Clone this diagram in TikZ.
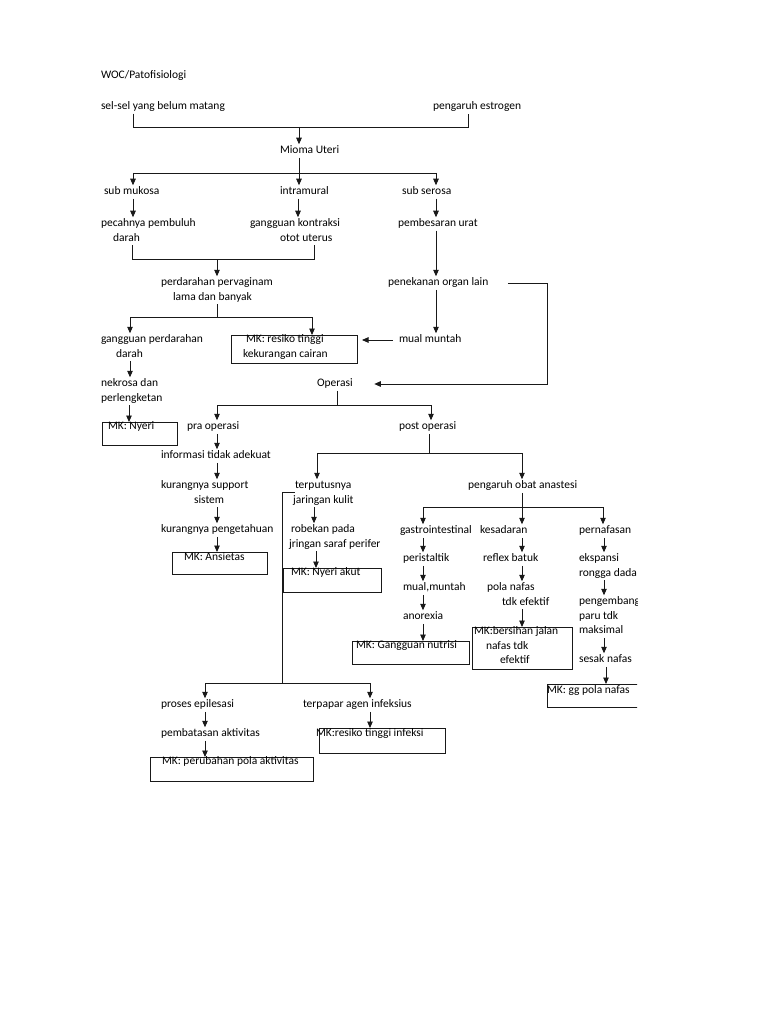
\documentclass[tikz,border=0pt]{standalone}
\usepackage{fontspec}
\setmainfont{Carlito}
\usetikzlibrary{arrows.meta}
\newcommand\fsz{\fontsize{11.5}{14.5}\selectfont}
\newcommand\fst{\rule{0pt}{8pt}}
\newcommand\fsd{\rule[-2.5pt]{0pt}{2.5pt}}
\begin{document}
\begin{tikzpicture}[x=1pt,y=-1pt,
 ln/.style={line width=0.9pt, draw=black!90},
 arr/.style={ln,-{Triangle[length=6.5pt,width=5.5pt]}},
 lbl/.style={anchor=west,inner sep=0pt,outer sep=1.5pt,font=\fsz,text height=8pt,text depth=2.5pt,text=black,xshift=-1.5pt},
 ml/.style={anchor=north west,inner sep=0pt,outer sep=1.5pt,font=\fsz,align=left,text=black,yshift=6.75pt,xshift=-1.5pt},
 mkbox/.style={draw=black!90,line width=0.9pt,anchor=north west,inner sep=0pt,outer sep=0pt},
]
\useasboundingbox (0,0) rectangle (768,1024);
\fill[white] (0,0) rectangle (768,1024);
\begin{scope}
\clip (0,0) rectangle (637,1024);
% ---- nodes
\node[lbl] (title) at (101,76) {WOC/Patofisiologi};
\node[lbl] (sel) at (101,107) {sel-sel yang belum matang};
\node[lbl] (estr) at (433,107) {pengaruh estrogen};
\node[lbl] (mioma) at (280,151) {Mioma Uteri};
\node[lbl] (smuk) at (104,192) {sub mukosa};
\node[lbl] (intra) at (280,192) {intramural};
\node[lbl] (sser) at (402,192) {sub serosa};
\node[ml] (pecah) at (101,224) {\fst pecahnya pembuluh\\\hspace*{12pt}darah\fsd};
\node[ml] (gkon) at (250,224) {\fst gangguan kontraksi\\\hspace*{30pt}otot uterus\fsd};
\node[lbl] (pembes) at (398,224) {pembesaran urat};
\node[ml] (perd) at (161,283) {\fst perdarahan pervaginam\\\hspace*{12pt}lama dan banyak\fsd};
\node[lbl] (penek) at (388,283) {penekanan organ lain};
\node[ml] (gperd) at (101,340) {\fst gangguan perdarahan\\\hspace*{15pt}darah\fsd};
\node[mkbox,minimum width=126pt,minimum height=28pt] (b1) at (231,335) {};
\node[ml] (b1t) at (243,340) {\fst\hspace*{3pt}MK: resiko tinggi\\kekurangan cairan\fsd};
\node[lbl] (mual) at (399,340) {mual muntah};
\node[ml] (nekr) at (101,384) {\fst nekrosa dan\\perlengketan\fsd};
\node[lbl] (operasi) at (317,384) {Operasi};
\node[mkbox,minimum width=75pt,minimum height=23pt] (b2) at (102,422) {};
\node[lbl] (b2t) at (108,427) {MK: Nyeri};
\node[lbl] (pra) at (187,427) {pra operasi};
\node[lbl] (post) at (399,427) {post operasi};
\node[lbl] (info) at (161,456) {informasi tidak adekuat};
\node[ml] (ksup) at (161,486) {\fst kurangnya support\\\hspace*{33pt}sistem\fsd};
\node[ml] (terp) at (293,486) {\fst\hspace*{2pt}terputusnya\\jaringan kulit\fsd};
\node[lbl] (poa) at (468,486) {pengaruh obat anastesi};
\node[lbl] (kpeng) at (161,530) {kurangnya pengetahuan};
\node[ml] (robek) at (289,530) {\fst\hspace*{2pt}robekan pada\\jringan saraf perifer\fsd};
\node[lbl] (gastro) at (400,531) {gastrointestinal};
\node[lbl] (kesad) at (480,531) {kesadaran};
\node[lbl] (pern) at (579,531) {pernafasan};
\node[mkbox,minimum width=95pt,minimum height=22pt] (b3) at (172,552) {};
\node[lbl] (b3t) at (184,558) {MK: Ansietas};
\node[lbl] (peris) at (403,559) {peristaltik};
\node[lbl] (reflex) at (483,559) {reflex batuk};
\node[ml] (eksp) at (579,559) {\fst ekspansi\\rongga dada\fsd};
\node[mkbox,minimum width=98pt,minimum height=24pt] (b4) at (283,568) {};
\node[lbl] (b4t) at (291,573) {MK: Nyeri akut};
\node[lbl] (mualm) at (403,588) {mual,muntah};
\node[ml] (pola) at (487,588) {\fst pola nafas\\\hspace*{15pt}tdk efektif\fsd};
\node[ml] (pengem) at (579,602) {\fst pengembang\\paru tdk\\maksimal\fsd};
\node[lbl] (anor) at (403,617) {anorexia};
\node[mkbox,minimum width=100pt,minimum height=42pt] (b6) at (472,627) {};
\node[ml] (b6t) at (474,632) {\fst MK:bersihan jalan\\\hspace*{12pt}nafas tdk\\\hspace*{26pt}efektif\fsd};
\node[mkbox,minimum width=117pt,minimum height=23pt] (b5) at (352,641) {};
\node[lbl] (b5t) at (356,646) {MK: Gangguan nutrisi};
\node[lbl] (sesak) at (579,660) {sesak nafas};
\node[mkbox,minimum width=110pt,minimum height=23pt] (b7) at (547,684) {};
\node[lbl] (b7t) at (547,691) {MK: gg pola nafas};
\node[lbl] (proses) at (161,705) {proses epilesasi};
\node[lbl] (terpapar) at (303,705) {terpapar agen infeksius};
\node[mkbox,minimum width=126pt,minimum height=25pt] (b8) at (319,728) {};
\node[lbl] (b8t) at (316,734) {MK:resiko tinggi infeksi};
\node[lbl] (pembat) at (161,734) {pembatasan aktivitas};
\node[mkbox,minimum width=163pt,minimum height=24pt] (b9) at (150,757) {};
\node[lbl] (b9t) at (162,762) {MK: perubahan pola aktivitas};
% ---- connectors
\coordinate (j1) at (133,127); \coordinate (j2) at (468,127); \coordinate (j3) at (299,127);
\draw[ln] (sel.south -| j1) -- (j1) -- (j2) -- (estr.south -| j2);
\draw[arr] (j3) -- (j3 |- mioma.north);
\coordinate (k1) at (133,173); \coordinate (k2) at (436,173); \coordinate (k3) at (299,173); \coordinate (k4) at (298,173);
\draw[ln] (k1) -- (k2);
\draw[arr] (mioma.south -| k3) -- (k3 |- intra.north);
\draw[arr] (k1) -- (k1 |- smuk.north);
\draw[arr] (k2) -- (k2 |- sser.north);
\draw[arr] (smuk.south -| k1) -- (k1 |- pecah.north);
\draw[arr] (intra.south -| k4) -- (k4 |- gkon.north);
\draw[arr] (sser.south -| k2) -- (k2 |- pembes.north);
\coordinate (m1) at (132,259); \coordinate (m2) at (314,259); \coordinate (m3) at (217,259);
\draw[ln] (pecah.south -| m1) -- (m1) -- (m2) -- (gkon.south -| m2);
\draw[arr] (m3) -- (m3 |- perd.north);
\draw[arr] (pembes.south -| k2) -- (k2 |- penek.north);
\draw[arr] (penek.south -| k2) -- (k2 |- mual.north);
\coordinate (r1) at (547,283); \coordinate (r2) at (547,384);
\draw[arr] ([xshift=18pt]penek.east) -- (r1) -- (r2) -- ([xshift=20pt]operasi.east);
\coordinate (p1) at (130,317); \coordinate (p2) at (312,317); \coordinate (p3) at (217,317);
\draw[ln] (perd.south -| p3) -- (p3);
\draw[ln] (p1) -- (p2);
\draw[arr] (p1) -- (p1 |- gperd.north);
\draw[arr] (p2) -- (p2 |- b1.north);
\path (b1.east |- mual.west) ++(5,0) coordinate (q1);
\draw[arr] ([xshift=-5pt]mual.west) -- (q1);
\draw[arr] (gperd.south -| p1) -- (p1 |- nekr.north);
\coordinate (n2) at (129,400);
\draw[arr] (nekr.south -| n2) -- (n2 |- b2.north);
\coordinate (o1) at (217,405); \coordinate (o2) at (431,405); \coordinate (o3) at (337,405);
\draw[ln] (operasi.south -| o3) -- (o3);
\draw[ln] (o1) -- (o2);
\draw[arr] (o1) -- (o1 |- pra.north);
\draw[arr] (o2) -- (o2 |- post.north);
\draw[arr] (pra.south -| o1) -- (o1 |- info.north);
\draw[arr] (info.south -| o1) -- (o1 |- ksup.north);
\draw[arr] (ksup.south -| o1) -- (o1 |- kpeng.north);
\draw[arr] (kpeng.south -| o1) -- (o1 |- b3.north);
\coordinate (s1) at (317,453); \coordinate (s2) at (522,453); \coordinate (s3) at (429,453);
\draw[ln] (post.south -| s3) -- (s3);
\draw[ln] (s1) -- (s2);
\draw[arr] (s1) -- (s1 |- terp.north);
\draw[arr] (s2) -- (s2 |- poa.north);
\coordinate (u1) at (314,515); \coordinate (u2) at (316,560);
\draw[arr] (terp.south -| u1) -- (u1 |- robek.north);
\draw[arr] (robek.south -| u2) -- (u2 |- b4.north);
\coordinate (t1) at (282,492); \coordinate (t2) at (282,683); \coordinate (t3) at (205,683); \coordinate (t4) at (370,683);
\draw[ln] ([xshift=3pt]terp.west |- t1) -- (t1) -- (t2);
\draw[ln] (t3) -- (t4);
\draw[arr] (t3) -- (t3 |- proses.north);
\draw[arr] (t4) -- (t4 |- terpapar.north);
\draw[arr] (proses.south -| t3) -- (t3 |- pembat.north);
\draw[arr] (pembat.south -| t3) -- (t3 |- b9.north);
\draw[arr] (terpapar.south -| t4) -- (t4 |- b8.north);
\coordinate (v1) at (423,507); \coordinate (v2) at (603,507); \coordinate (v3) at (522,507);
\draw[ln] (v1) -- (v2);
\draw[arr] (poa.south -| v3) -- (v3 |- kesad.north);
\draw[arr] (v1) -- (v1 |- gastro.north);
\draw[arr] (v2) -- (v2 |- pern.north);
\draw[arr] (gastro.south -| v1) -- (v1 |- peris.north);
\draw[arr] (peris.south -| v1) -- (v1 |- mualm.north);
\draw[arr] (mualm.south -| v1) -- (v1 |- anor.north);
\draw[arr] (anor.south -| v1) -- (v1 |- b5.north);
\draw[arr] (kesad.south -| v3) -- (v3 |- reflex.north);
\draw[arr] (reflex.south -| v3) -- (v3 |- pola.north);
\draw[arr] (pola.south -| v3) -- (v3 |- b6.north);
\coordinate (w1) at (604,540); \coordinate (w2) at (606,670);
\draw[arr] (pern.south -| w1) -- (w1 |- eksp.north);
\draw[arr] (eksp.south -| w1) -- (w1 |- pengem.north);
\draw[arr] (pengem.south -| w1) -- (w1 |- sesak.north);
\draw[arr] (sesak.south -| w2) -- (w2 |- b7.north);
\end{scope}
\end{tikzpicture}
\end{document}
